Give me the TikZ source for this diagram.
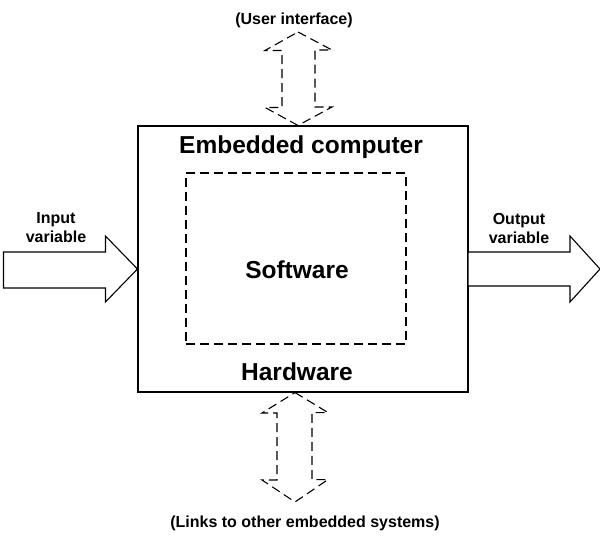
\documentclass[tikz,border=0pt]{standalone}
\usepackage{fontspec}
\setmainfont{Liberation Sans}
\usepackage{tikz}
\usetikzlibrary{calc}
\tikzset{
	bigtext/.style={font=\fontsize{24.5}{29}\selectfont\bfseries},
	smalltext/.style={font=\fontsize{16}{19}\selectfont\bfseries,align=center},
	dashline/.style={line width=1.1pt,dash pattern=on 9pt off 5pt},
	blockarrow/.style={line width=1.1pt,line join=miter,fill=white}
	}

\begin{document}
\begin{tikzpicture}[x=1pt,y=-1pt]
					\useasboundingbox (0,0) rectangle (600,536);
					% box and inner part
					\node[draw,line width=1.1pt,minimum width=330pt,minimum height=266pt] (box) at (303,259) {};
					\node[draw,dashline,minimum width=220pt,minimum height=171pt] (sw) at (296,258.5) {};
					\node[bigtext] (comp) at (301,147) {Embedded computer};
					\node[bigtext] (soft) at (297,270) {Software};
					\node[bigtext] (hard) at (297,372) {Hardware};
					% labels
					\node[smalltext] (ui) at (294,20) {(User interface)};
					\node[smalltext] (links) at (305,523) {(Links to other embedded systems)};
					\node[smalltext] (in) at (56,228) {Input\\variable};
					\node[smalltext] (out) at (519,228) {Output\\variable};
					% arrow tips
					\coordinate (intip) at ($(box.west)+(0,10)$);
					\coordinate (outtip) at (600,269);
					\coordinate (uitop) at (298,32);
					\coordinate (uibot) at ($(box.north)+(-5,0)$);
					\coordinate (lktop) at ($(box.south)+(-8,0)$);
					\coordinate (lkbot) at (295,502);
					% input and output
					\draw[blockarrow] (intip) -- ++(-32,-33) -- ++(0,16) -- ++(-102,0) -- ++(0,36) -- ++(102,0) -- ++(0,14) -- cycle;
					\draw[blockarrow] (outtip) -- ++(-30,-33) -- ++(0,16) -- ++(-102,0) -- ++(0,34) -- ++(102,0) -- ++(0,16) -- cycle;
					% user interface
					\draw[dashline] (uitop) -- ++(34,18) -- ++(-17,0) -- ++(0,57) -- ++(17,0) -- (uibot) -- ++(-33,-18) -- ++(17,0) -- ++(0,-57) -- ++(-17,0) -- cycle;
					% links
					\draw[dashline] (lktop) -- ++(33,20) -- ++(-16,0) -- ++(0,67) -- ++(16,0) -- (lkbot) -- ++(-33,-22) -- ++(15,0) -- ++(0,-67) -- ++(-15,0) -- cycle;
				\end{tikzpicture}
\end{document}
